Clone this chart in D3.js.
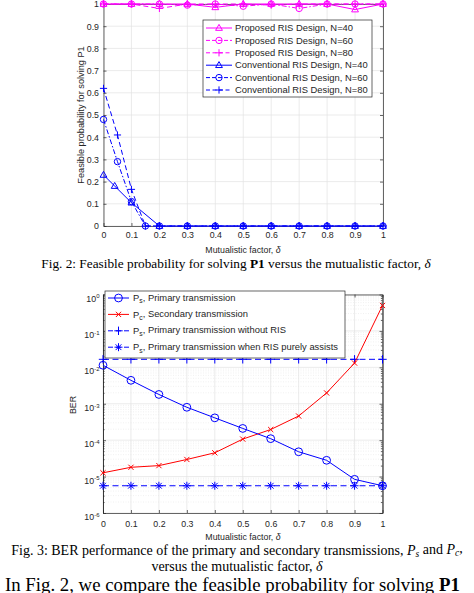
<!DOCTYPE html>
<html>
<head>
<meta charset="utf-8">
<script src="https://cdn.jsdelivr.net/npm/d3@7"></script>
<style>
body { margin: 0; background: #fff; }
svg { display: block; }
.ax text { font-family: "Liberation Sans", Arial, sans-serif; font-size: 8.8px; fill: #262626; }
.lg text { font-family: "Liberation Sans", Arial, sans-serif; fill: #262626; }
.cap { font-family: "Liberation Serif", "Times New Roman", serif; fill: #000; }
</style>
</head>
<body>
<div id="fig"></div>
<script>
/// Fig. 2 data: feasible probability vs mutualistic factor
var delta = [0, 0.1, 0.2, 0.3, 0.4, 0.5, 0.6, 0.7, 0.8, 0.9, 1];
var propN40 = [1, 1, 1, 1, 0.985, 1, 1, 1, 1, 0.975, 1];
var propN60 = [1, 1, 1, 0.995, 1, 0.99, 1, 0.98, 1, 1, 1];
var propN80 = [1, 1, 0.98, 1, 1, 1, 0.995, 1, 1, 1, 1];
var convDeltaA = [0, 0.04, 0.1, 0.2, 0.3, 0.4, 0.5, 0.6, 0.7, 0.8, 0.9, 1];
var convN40 = [0.23, 0.18, 0.105, 0, 0, 0, 0, 0, 0, 0, 0, 0];
var convDeltaB = [0, 0.05, 0.1, 0.15, 0.2, 0.3, 0.4, 0.5, 0.6, 0.7, 0.8, 0.9, 1];
var convN60 = [0.48, 0.29, 0.11, 0, 0, 0, 0, 0, 0, 0, 0, 0, 0];
var convN80 = [0.62, 0.41, 0.165, 0, 0, 0, 0, 0, 0, 0, 0, 0, 0];
var probTicks = [0, 0.1, 0.2, 0.3, 0.4, 0.5, 0.6, 0.7, 0.8, 0.9, 1];

/// Fig. 3 data: BER vs mutualistic factor
var berPs = [1.14e-2, 4.4e-3, 1.8e-3, 8.0e-4, 4.1e-4, 2.1e-4, 1.1e-4, 4.8e-5, 2.8e-5, 8.4e-6, 5.6e-6];
var berPc = [1.27e-5, 1.8e-5, 2.0e-5, 2.95e-5, 4.5e-5, 1.07e-4, 1.96e-4, 4.6e-4, 1.98e-3, 1.31e-2, 0.5];
var berNoRis = [1.66e-2, 1.66e-2, 1.66e-2, 1.66e-2, 1.66e-2, 1.66e-2, 1.66e-2, 1.66e-2, 1.66e-2, 1.66e-2, 1.66e-2];
var berAssist = [5.6e-6, 5.6e-6, 5.6e-6, 5.6e-6, 5.6e-6, 5.6e-6, 5.6e-6, 5.6e-6, 5.6e-6, 5.6e-6, 5.6e-6];
var berDecades = [1e-6, 1e-5, 1e-4, 1e-3, 1e-2, 1e-1, 1];

var MAG = "#ff00ff", BLU = "#0000ff", RED = "#ff0000";
var AXC = "#262626", GRID = "#e3e3e3";

var svg = d3.select("#fig").append("svg")
    .attr("width", 474)
    .attr("height", 593);

svg.append("rect").attr("width", 474).attr("height", 593).attr("fill", "#fff");

/// marker shapes
function marker(g, type, cx, cy, color, s) {
    var p;
    if (type === "tri") {
        p = `M${cx},${cy - s}L${cx + s * 0.95},${cy + s * 0.65}L${cx - s * 0.95},${cy + s * 0.65}Z`;
    } else if (type === "circ") {
        g.append("circle").attr("cx", cx).attr("cy", cy).attr("r", s)
            .attr("fill", "none").attr("stroke", color).attr("stroke-width", 1);
        return;
    } else if (type === "plus") {
        p = `M${cx - s},${cy}H${cx + s}M${cx},${cy - s}V${cy + s}`;
    } else if (type === "x") {
        p = `M${cx - s},${cy - s}L${cx + s},${cy + s}M${cx - s},${cy + s}L${cx + s},${cy - s}`;
    } else if (type === "star") {
        var k = s * 0.72;
        p = `M${cx - s},${cy}H${cx + s}M${cx},${cy - s}V${cy + s}` +
            `M${cx - k},${cy - k}L${cx + k},${cy + k}M${cx - k},${cy + k}L${cx + k},${cy - k}`;
    }
    g.append("path").attr("d", p).attr("fill", "none")
        .attr("stroke", color).attr("stroke-width", 1);
}

function drawSeries(g, xs, ys, xScale, yScale, color, dash, type, s) {
    var pts = xs.map((d, i) => [d, ys[i]]);
    var line = d3.line().x(d => xScale(d[0])).y(d => yScale(d[1]));
    g.append("path").datum(pts)
        .attr("d", line)
        .attr("fill", "none")
        .attr("stroke", color)
        .attr("stroke-width", 1)
        .attr("stroke-dasharray", dash);
    pts.forEach(d => marker(g, type, xScale(d[0]), yScale(d[1]), color, s));
}

function legendRow(g, x0, x1, y, color, dash, type, s, textFn, tx) {
    g.append("line").attr("x1", x0).attr("x2", x1).attr("y1", y).attr("y2", y)
        .attr("stroke", color).attr("stroke-width", 1).attr("stroke-dasharray", dash);
    marker(g, type, (x0 + x1) / 2, y, color, s);
    var t = g.append("text").attr("x", tx).attr("y", y).attr("dy", "0.35em");
    textFn(t);
}

/// ---------------- Fig. 2 ----------------
var x1 = d3.scaleLinear().domain([0, 1]).range([103.5, 383]);
var y1 = d3.scaleLinear().domain([0, 1]).range([226, 4]);

var g1 = svg.append("g");

// grid
g1.append("g").selectAll("line").data(probTicks).enter().append("line")
    .attr("x1", d => x1(d)).attr("x2", d => x1(d)).attr("y1", y1(0)).attr("y2", y1(1))
    .attr("stroke", GRID).attr("stroke-width", 0.7);
g1.append("g").selectAll("line").data(probTicks).enter().append("line")
    .attr("y1", d => y1(d)).attr("y2", d => y1(d)).attr("x1", x1(0)).attr("x2", x1(1))
    .attr("stroke", GRID).attr("stroke-width", 0.7);

// axes (ticks inside, MATLAB box)
g1.append("g").attr("class", "ax").attr("transform", `translate(0,${y1(0)})`)
    .call(d3.axisBottom(x1).tickValues(delta).tickFormat(d3.format("~g"))
        .tickSizeInner(-3).tickSizeOuter(0).tickPadding(6));
g1.append("g").attr("class", "ax").attr("transform", `translate(${x1(0)},0)`)
    .call(d3.axisLeft(y1).tickValues(probTicks).tickFormat(d3.format("~g"))
        .tickSizeInner(-3).tickSizeOuter(0).tickPadding(4.5));
g1.append("g").attr("class", "ax").attr("transform", `translate(0,${y1(1)})`)
    .call(d3.axisTop(x1).tickValues(delta).tickFormat("").tickSizeInner(-3).tickSizeOuter(0));
g1.append("g").attr("class", "ax").attr("transform", `translate(${x1(1)},0)`)
    .call(d3.axisRight(y1).tickValues(probTicks).tickFormat("").tickSizeInner(-3).tickSizeOuter(0));
g1.selectAll(".ax path, .ax line").attr("stroke", AXC).attr("stroke-width", 0.7);

// series
var s1 = g1.append("g");
drawSeries(s1, convDeltaA, convN40, x1, y1, BLU, null, "tri", 3.6);
drawSeries(s1, convDeltaB, convN60, x1, y1, BLU, "5,2,1.5,2", "circ", 3.2);
drawSeries(s1, convDeltaB, convN80, x1, y1, BLU, "5,3", "plus", 3.6);
drawSeries(s1, delta, propN40, x1, y1, MAG, null, "tri", 3.6);
drawSeries(s1, delta, propN60, x1, y1, MAG, "5,2,1.5,2", "circ", 3.2);
drawSeries(s1, delta, propN80, x1, y1, MAG, "5,3", "plus", 3.6);

// labels
g1.append("text")
    .attr("transform", "translate(81,115) rotate(-90)")
    .attr("text-anchor", "middle").attr("dy", "0.35em")
    .style("font-family", "Liberation Sans, Arial, sans-serif").style("font-size", "9.2px")
    .attr("fill", AXC).text("Feasible probability for solving P1");
var xl1 = g1.append("text").attr("x", 243).attr("y", 250).attr("dy", "0.35em")
    .attr("text-anchor", "middle")
    .style("font-family", "Liberation Sans, Arial, sans-serif").style("font-size", "8.8px")
    .attr("fill", AXC);
xl1.append("tspan").text("Mutualistic factor, ");
xl1.append("tspan").style("font-style", "italic").text("δ");

// legend
var lg1 = g1.append("g").attr("class", "lg").style("font-size", "9.4px");
lg1.append("rect").attr("x", 203).attr("y", 20).attr("width", 169).attr("height", 77)
    .attr("fill", "#fff").attr("stroke", AXC).attr("stroke-width", 0.7);
var leg1 = [
    [MAG, null, "tri", "Proposed RIS Design, N=40"],
    [MAG, "4,2", "circ", "Proposed RIS Design, N=60"],
    [MAG, "4,2.5", "plus", "Proposed RIS Design, N=80"],
    [BLU, null, "tri", "Conventional RIS Design, N=40"],
    [BLU, "4,2", "circ", "Conventional RIS Design, N=60"],
    [BLU, "4,2.5", "plus", "Conventional RIS Design, N=80"]
];
leg1.forEach(function(r, i) {
    legendRow(lg1, 206, 232, 28 + i * 12.4, r[0], r[1], r[2], r[2] === "circ" ? 3.2 : 3.6,
        t => t.text(r[3]), 235);
});

// caption
var c1 = svg.append("text").attr("class", "cap")
    .attr("x", 236).attr("y", 267.5).attr("text-anchor", "middle").style("font-size", "13.3px");
c1.append("tspan").text("Fig. 2: Feasible probability for solving ");
c1.append("tspan").style("font-weight", "bold").text("P1");
c1.append("tspan").text(" versus the mutualistic factor, ");
c1.append("tspan").style("font-style", "italic").text("δ");

/// ---------------- Fig. 3 ----------------
var x2 = d3.scaleLinear().domain([0, 1]).range([103, 382.5]);
var y2 = d3.scaleLog().domain([1e-6, 1]).range([513, 294.5]);

var g2 = svg.append("g");

var minors = [];
berDecades.slice(0, -1).forEach(function(d) {
    for (var m = 2; m <= 9; m++) minors.push(d * m);
});

// grid
g2.append("g").selectAll("line").data(minors).enter().append("line")
    .attr("y1", d => y2(d)).attr("y2", d => y2(d)).attr("x1", x2(0)).attr("x2", x2(1))
    .attr("stroke", "#e8e8e8").attr("stroke-width", 0.6).attr("stroke-dasharray", "1,1.5");
g2.append("g").selectAll("line").data(delta).enter().append("line")
    .attr("x1", d => x2(d)).attr("x2", d => x2(d)).attr("y1", y2(1e-6)).attr("y2", y2(1))
    .attr("stroke", GRID).attr("stroke-width", 0.7);
g2.append("g").selectAll("line").data(berDecades).enter().append("line")
    .attr("y1", d => y2(d)).attr("y2", d => y2(d)).attr("x1", x2(0)).attr("x2", x2(1))
    .attr("stroke", GRID).attr("stroke-width", 0.7);

// axes
g2.append("g").attr("class", "ax").attr("transform", `translate(0,${y2(1e-6)})`)
    .call(d3.axisBottom(x2).tickValues(delta).tickFormat(d3.format("~g"))
        .tickSizeInner(-3).tickSizeOuter(0).tickPadding(8));
var yAx2 = g2.append("g").attr("class", "ax").attr("transform", `translate(${x2(0)},0)`)
    .call(d3.axisLeft(y2).tickValues(berDecades).tickFormat("")
        .tickSizeInner(-3).tickSizeOuter(0).tickPadding(9));
yAx2.selectAll(".tick text").each(function(d) {
    var t = d3.select(this).attr("dy", "0.75em");
    var e = Math.round(Math.log10(d));
    t.append("tspan").text("10");
    t.append("tspan").attr("dy", "-0.55em").style("font-size", "6px")
        .text(e === 0 ? "0" : "-" + Math.abs(e));
});
yAx2.selectAll(".tick text").attr("x", -3.5);
g2.append("g").attr("class", "ax").attr("transform", `translate(${x2(0)},0)`)
    .call(d3.axisLeft(y2).tickValues(minors).tickFormat("").tickSizeInner(-1.6).tickSizeOuter(0));
g2.append("g").attr("class", "ax").attr("transform", `translate(${x2(1)},0)`)
    .call(d3.axisRight(y2).tickValues(berDecades).tickFormat("").tickSizeInner(-3).tickSizeOuter(0));
g2.append("g").attr("class", "ax").attr("transform", `translate(${x2(1)},0)`)
    .call(d3.axisRight(y2).tickValues(minors).tickFormat("").tickSizeInner(-1.6).tickSizeOuter(0));
g2.append("g").attr("class", "ax").attr("transform", `translate(0,${y2(1)})`)
    .call(d3.axisTop(x2).tickValues(delta).tickFormat("").tickSizeInner(-3).tickSizeOuter(0));
g2.selectAll(".ax path, .ax line").attr("stroke", AXC).attr("stroke-width", 0.7);

// series
var s2 = g2.append("g");
drawSeries(s2, delta, berNoRis, x2, y2, BLU, "6,3.5", "plus", 4.2);
drawSeries(s2, delta, berAssist, x2, y2, BLU, "6,3.5", "star", 4);
drawSeries(s2, delta, berPc, x2, y2, RED, null, "x", 2.6);
drawSeries(s2, delta, berPs, x2, y2, BLU, null, "circ", 3.9);

// labels
g2.append("text")
    .attr("transform", "translate(73,405) rotate(-90)")
    .attr("text-anchor", "middle").attr("dy", "0.35em")
    .style("font-family", "Liberation Sans, Arial, sans-serif").style("font-size", "8.8px")
    .attr("fill", AXC).text("BER");
var xl2 = g2.append("text").attr("x", 243).attr("y", 537).attr("dy", "0.35em")
    .attr("text-anchor", "middle")
    .style("font-family", "Liberation Sans, Arial, sans-serif").style("font-size", "8.8px")
    .attr("fill", AXC);
xl2.append("tspan").text("Mutualistic factor, ");
xl2.append("tspan").style("font-style", "italic").text("δ");

// legend
var lg2 = g2.append("g").attr("class", "lg").style("font-size", "9.4px");
lg2.append("rect").attr("x", 105).attr("y", 291).attr("width", 240).attr("height", 67)
    .attr("fill", "#fff").attr("stroke", AXC).attr("stroke-width", 0.7);
function pLabel(sub, rest) {
    return function(t) {
        t.append("tspan").text("P");
        t.append("tspan").attr("dy", "0.3em").style("font-size", "6.8px").text(sub);
        t.append("tspan").attr("dy", "-0.3em").text(rest);
    };
}
var leg2 = [
    [BLU, null, "circ", 3.9, pLabel("s", ", Primary transmission")],
    [RED, null, "x", 2.6, pLabel("c", ", Secondary transmission")],
    [BLU, "5,3", "plus", 4.2, pLabel("s", ", Primary transmission without RIS")],
    [BLU, "5,3", "star", 4, pLabel("s", ", Primary transmission when RIS purely assists")]
];
leg2.forEach(function(r, i) {
    legendRow(lg2, 108, 129, 298 + i * 16.4, r[0], r[1], r[2], r[3], r[4], 133);
});

// captions and body text
var c2 = svg.append("text").attr("class", "cap")
    .attr("x", 237).attr("y", 555).attr("text-anchor", "middle").style("font-size", "14px");
c2.append("tspan").text("Fig. 3: BER performance of the primary and secondary transmissions, ");
c2.append("tspan").style("font-style", "italic").text("P");
c2.append("tspan").attr("dy", "0.2em").style("font-size", "9.5px").style("font-style", "italic").text("s");
c2.append("tspan").attr("dy", "-0.2em").text(" and ");
c2.append("tspan").style("font-style", "italic").text("P");
c2.append("tspan").attr("dy", "0.2em").style("font-size", "9.5px").style("font-style", "italic").text("c");
c2.append("tspan").attr("dy", "-0.2em").text(",");

var c3 = svg.append("text").attr("class", "cap")
    .attr("x", 237).attr("y", 571).attr("text-anchor", "middle").style("font-size", "14px");
c3.append("tspan").text("versus the mutualistic factor, ");
c3.append("tspan").style("font-style", "italic").text("δ");

var body = svg.append("text").attr("class", "cap")
    .attr("x", 5).attr("y", 590.5).style("font-size", "18.8px");
body.append("tspan").text("In Fig. 2, we compare the feasible probability for solving ");
body.append("tspan").style("font-weight", "bold").text("P1");
</script>
</body>
</html>
